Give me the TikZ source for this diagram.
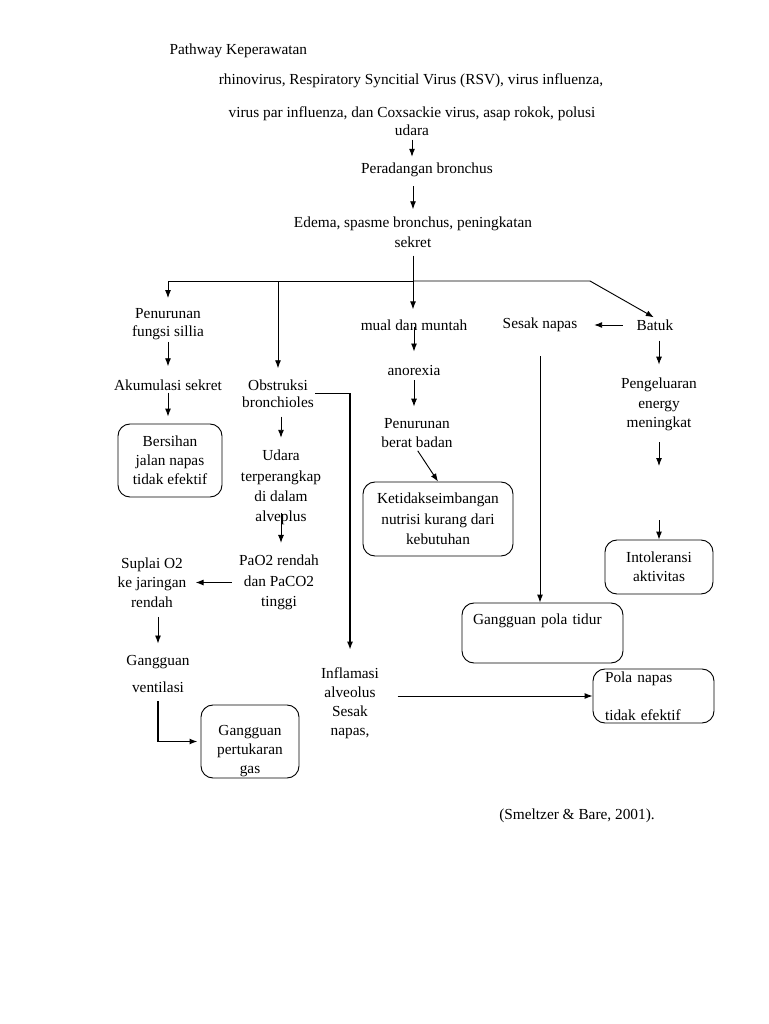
\documentclass[tikz,border=0pt]{standalone}
\usepackage{fontspec}
\setmainfont{Liberation Serif}
\usetikzlibrary{arrows.meta,calc}
\tikzset{
  txt/.style={align=center, inner sep=1pt},
  box/.style={draw, rounded corners=9pt, align=center, inner sep=2pt, line width=0.7pt},
  ln/.style={line width=0.7pt},
  arr/.style={ln, -{Latex[length=6pt,width=4.5pt]}},
  heavy/.style={line width=1.1pt},
}
\begin{document}
\begin{tikzpicture}[x=0.75pt, y=-0.75pt, font=\fontsize{11.5}{14.25}\selectfont]
\path[use as bounding box, fill=white] (0,0) rectangle (768,1024);

% ---- top chain
\node[txt, anchor=west] (title) at (168,51) {Pathway Keperawatan};
\node[txt] (src1) at (411,81) {rhinovirus, Respiratory Syncitial Virus (RSV), virus influenza,};
\node[txt] (src2) at (412,121.5) {virus par influenza, dan Coxsackie virus, asap rokok, polusi\\[-0.75pt]udara};
\node[txt] (perad) at (427,170) {Peradangan bronchus};
\node[txt] (edema) at (413,232) {Edema, spasme bronchus, peningkatan\\[0.75pt]sekret};

% ---- left column
\node[txt] (pfs) at (168,324) {Penurunan\\[-0.75pt]fungsi sillia};
\node[txt] (akum) at (168,385) {Akumulasi sekret};
\node[box, minimum width=78pt, minimum height=54.75pt] (bers) at (170,460.5) {Bersihan\\jalan napas\\tidak efektif};
\node[txt] (obs) at (278,393.5) {Obstruksi\\[-1.5pt]bronchioles};
\node[txt] (udara) at (281,487.5) {Udara\\[1pt]terperangkap\\[1pt]di dalam\\[1pt]alveplus};
\node[txt] (pao2) at (279,582.5) {PaO2 rendah\\[1pt]dan PaCO2\\[1pt]tinggi};
\node[txt] (suplai) at (152,582.5) {Suplai O2\\[0.4pt]ke jaringan\\[0.4pt]rendah};
\node[txt] (gv) at (158,673.5) {Gangguan\\[6pt]ventilasi};
\node[box, inner ysep=0pt, minimum width=73.5pt, minimum height=54.75pt] (gpg) at (250,741.5) {\rule{0pt}{22pt}Gangguan\\pertukaran\\gas};
\node[txt] (infl) at (350,703.5) {Inflamasi\\alveolus\\Sesak\\napas,};

% ---- middle column
\node[txt] (mual) at (414,325) {mual dan muntah};
\node[txt] (anor) at (414,370) {anorexia};
\node[txt] (pbb) at (417,433.5) {Penurunan\\berat badan};
\node[box, minimum width=112.5pt, minimum height=55.5pt] (ketid) at (438,519) {Ketidakseimbangan\\[1.1pt]nutrisi kurang dari\\[1.1pt]kebutuhan};

% ---- right column
\node[txt] (sesak) at (540,325) {Sesak napas};
\node[txt] (batuk) at (655,325) {Batuk};
\node[txt] (peng) at (659,404.5) {Pengeluaran\\[0.4pt]energy\\[0.4pt]meningkat};
\node[box, minimum width=81pt, minimum height=40.5pt] (intol) at (659,567) {Intoleransi\\aktivitas};
\node[box, align=left, text width=104.25pt, inner xsep=8.25pt, inner ysep=0pt, text height=16.1pt, text depth=28.9pt] (gpt) at (542.5,633) {Gangguan pola tidur};
\node[box, align=left, text width=72.75pt, inner xsep=9pt, inner ysep=0.5pt, minimum height=40.5pt] (pnapas) at (653.5,696) {Pola napas\\[14.25pt]tidak efektif};

\node[txt] (smelt) at (577,816) {(Smeltzer \& Bare, 2001).};

% ---- junction coordinates
\coordinate (jn) at (413,281);
\coordinate (bend) at (590,281);
\coordinate (gapA) at (659,466);
\coordinate (gapB) at (659,520);

% ---- connectors, top
\draw[arr, shorten <=1.5pt, shorten >=3.5pt] (src2.south) -- (src2.south |- perad.north);
\draw[arr, shorten <=5.8pt, shorten >=4.3pt] (perad.south -| edema.south) -- (edema.north);
\draw[ln, shorten <=5pt] (edema.south) -- (jn);
\draw[arr, shorten >=6.5pt] (jn) -| (pfs.north);
\draw[arr, shorten >=7.3pt] (obs.north |- jn) -- (obs.north);
\draw[arr, shorten >=6.5pt] (jn) -- (jn |- mual.north);
\draw[arr, shorten >=1pt] (jn) -- (bend) -- (batuk.north);

% ---- left column
\draw[arr, shorten <=0.5pt, shorten >=8.8pt] (pfs.south) -- (pfs.south |- akum.north);
\draw[arr, shorten <=0.5pt, shorten >=5.25pt] (akum.south) -- (akum.south |- bers.north);
\draw[arr, shorten <=5.8pt, shorten >=8pt] (udara.north |- obs.south) -- (udara.north);
\draw[arr, shorten <=-10pt, shorten >=8pt] (udara.south) -- (udara.south |- pao2.north);
\draw[arr, shorten <=4.5pt, shorten >=5.8pt] (pao2.west) -- (pao2.west -| suplai.east);
\draw[arr, shorten <=5.8pt, shorten >=7.3pt] (gv.north |- suplai.south) -- (gv.north);
\draw[arr, heavy, shorten <=5.8pt, shorten >=2.25pt] (gv.south) |- (gpg.west);
\draw[arr, heavy, shorten >=12.5pt] (obs.east) -| (infl.north);
\draw[arr, shorten <=12.75pt] (infl.east |- pnapas.west) -- (pnapas.west);

% ---- middle column
\draw[arr, shorten <=-4pt, shorten >=8.8pt] (mual.south) -- (mual.south |- anor.north);
\draw[arr, shorten <=2.8pt, shorten >=8pt] (anor.south) -- (anor.south |- pbb.north);
\draw[arr, shorten <=1pt] (pbb.south) -- (ketid.north);

% ---- right column
\draw[arr, shorten <=9.3pt, shorten >=11.5pt] (batuk.west) -- (sesak.east);
\draw[arr, shorten <=17pt] (sesak.south) -- (sesak.south |- gpt.north);
\draw[arr, shorten <=6.5pt, shorten >=8.8pt] (peng.north |- batuk.south) -- (peng.north);
\draw[arr, shorten <=7.3pt] (peng.south) -- (gapA);
\draw[arr] (gapB) -- (intol.north);
\end{tikzpicture}
\end{document}
